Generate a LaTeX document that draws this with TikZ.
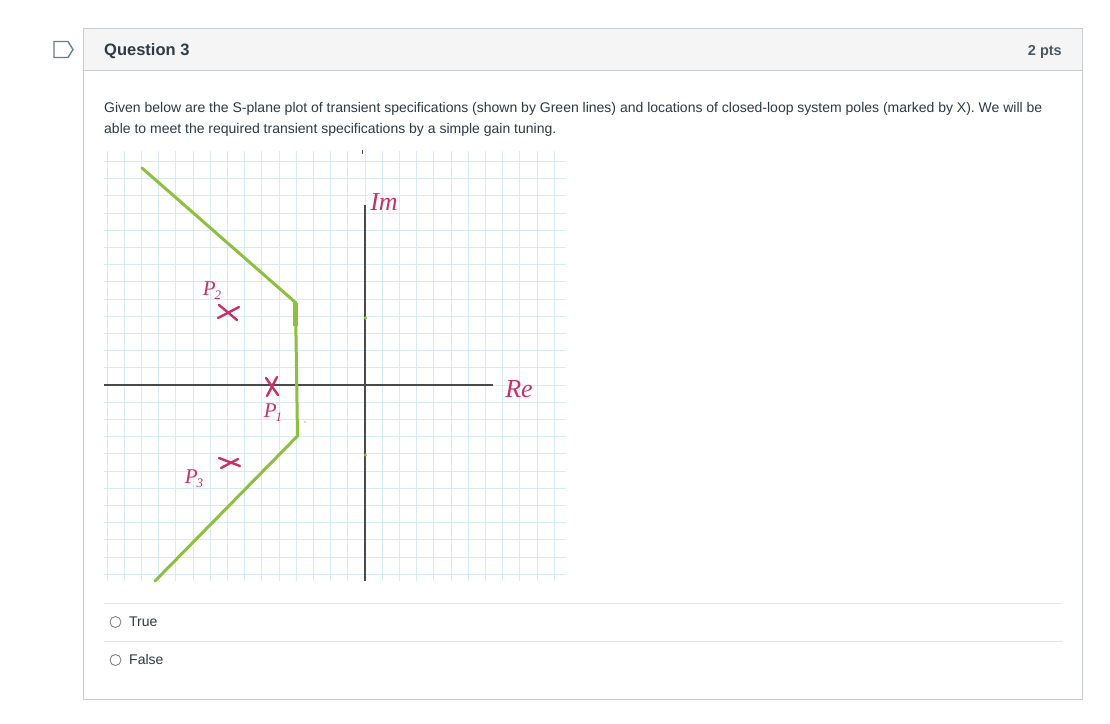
\documentclass[tikz,border=0pt]{standalone}
\usepackage{fontspec}
\setmainfont{Liberation Sans}
\newfontfamily\handfont{Liberation Serif}
\definecolor{txt}{HTML}{2D3B45}
\definecolor{boxline}{HTML}{C7CDD1}
\definecolor{headbg}{HTML}{F5F5F5}
\definecolor{sepline}{HTML}{E2E4E6}
\definecolor{gridc}{HTML}{D8EBF4}
\definecolor{axisc}{HTML}{4A4A4A}
\definecolor{specgreen}{HTML}{8CC03E}
\definecolor{pole}{HTML}{C8306E}
\definecolor{flagc}{HTML}{5E7F9E}
\definecolor{radioc}{HTML}{7A7A7A}
\begin{document}
\begin{tikzpicture}[x=1pt,y=-1pt,
  bodytext/.style={font=\fontsize{14}{16}\selectfont, text=txt, inner sep=0pt, anchor=base west},
  choice/.style={font=\fontsize{14}{16}\selectfont, text=txt, inner sep=0pt, anchor=west},
  radio/.style={circle, draw=radioc, line width=0.8pt, minimum size=11pt, inner sep=0pt},
  hand/.style={text=pole, inner sep=0pt},
  polex/.style={draw=pole, line width=2.4pt, line cap=round},
  spec/.style={draw=specgreen, line width=3pt, line join=round, line cap=round},
  axisline/.style={draw=axisc, line width=1.3pt}
]
\useasboundingbox (0,0) rectangle (1110,723);
\fill[white] (0,0) rectangle (1110,723);

% outer question box
\filldraw[fill=headbg, draw=boxline, line width=1pt] (83.5,28.5) rectangle (1082.5,70.5);
\draw[boxline, line width=1pt] (83.5,70.5) -- (83.5,699.5) -- (1082.5,699.5) -- (1082.5,70.5);

% flag icon
\draw[flagc, line width=1.4pt, line join=miter] (54,41.5) -- (68,41.5) -- (73,49.5) -- (68,57.5) -- (54,57.5) -- cycle;

% header
\node[font=\fontsize{16.5}{18}\selectfont\bfseries, text=txt, anchor=base west, inner sep=0pt] (qtitle) at (104,55) {Question 3};
\node[font=\fontsize{14.5}{16}\selectfont\bfseries, text=txt!85, anchor=base east, inner sep=0pt] (pts) at (1062,55) {2 pts};

% description
\node[bodytext] (line1) at (104,112) {Given below are the S-plane plot of transient specifications (shown by Green lines) and locations of closed-loop system poles (marked by X). We will be};
\node[bodytext] (line2) at (104,133) {able to meet the required transient specifications by a simple gain tuning.};

% graph paper
\begin{scope}
\clip (104,151) rectangle (566,581);
\foreach \k in {-16,...,12} {\draw[gridc, line width=0.8pt] ({365+\k*17.2},151) -- ({365+\k*17.2},581);}
\foreach \k in {-14,...,12} {\draw[gridc, line width=0.8pt] (104,{385+\k*17.2}) -- (566,{385+\k*17.2});}
\end{scope}

% axes
\coordinate (reL) at (104,385);
\coordinate (reR) at (493,385);
\coordinate (imT) at (365,205);
\coordinate (imTk) at (365,228);
\coordinate (imB) at (365,581);
\draw[axisline] (reL) -- (reR);
\draw[axisline] (imT) -- (imB);
\draw[axisc, line width=2.6pt] (imT) -- (imTk);
\draw[axisc, line width=0.8pt] (362.5,150) -- (362.5,154);

% small green marks on imaginary axis
\fill[specgreen] (365.5,318) circle (1.8pt);
\fill[specgreen] (365.5,455) circle (1.6pt);
\fill[specgreen!80] (305,422) circle (0.9pt);

% specification lines
\coordinate (s1) at (142,168);
\coordinate (s2) at (295.5,302.5);
\coordinate (s3) at (297.5,436);
\coordinate (s4) at (155,581);
\draw[spec] (s1) -- (s2) -- (s3) -- (s4);
\draw[specgreen, line width=4.2pt] (295.5,303) -- (295.5,326);

% poles
\draw[polex] (218,318) -- (239,307);
\draw[polex] (219,305) -- (237,320);
\draw[polex] (266,378) -- (278,395);
\draw[polex] (277,377) -- (267,396);
\draw[polex] (219,458) -- (240,466);
\draw[polex] (221,468) -- (238,459);

% labels
\node[hand, font=\handfont\itshape\fontsize{21}{22}\selectfont] (p2) at (212,291) {P\kern-1pt\raisebox{-4pt}{\fontsize{13}{14}\selectfont 2}};
\node[hand, font=\handfont\itshape\fontsize{21}{22}\selectfont] (p1) at (273,413) {P\kern-1pt\raisebox{-4pt}{\fontsize{13}{14}\selectfont 1}};
\node[hand, font=\handfont\itshape\fontsize{21}{22}\selectfont] (p3) at (194,479) {P\kern-1pt\raisebox{-4pt}{\fontsize{13}{14}\selectfont 3}};
\node[hand, font=\handfont\itshape\fontsize{26}{28}\selectfont] (im) at (384,202) {Im};
\node[hand, font=\handfont\itshape\fontsize{26}{28}\selectfont] (re) at (519,389) {Re};

% choices
\draw[sepline, line width=1pt] (104,603.5) -- (1062,603.5);
\draw[sepline, line width=1pt] (104,641.5) -- (1062,641.5);
\node[radio] (r1) at (115.5,622) {};
\node[choice] (c1) at (129,621.5) {True};
\node[radio] (r2) at (115.5,660) {};
\node[choice] (c2) at (129,659.5) {False};
\end{tikzpicture}
\end{document}
